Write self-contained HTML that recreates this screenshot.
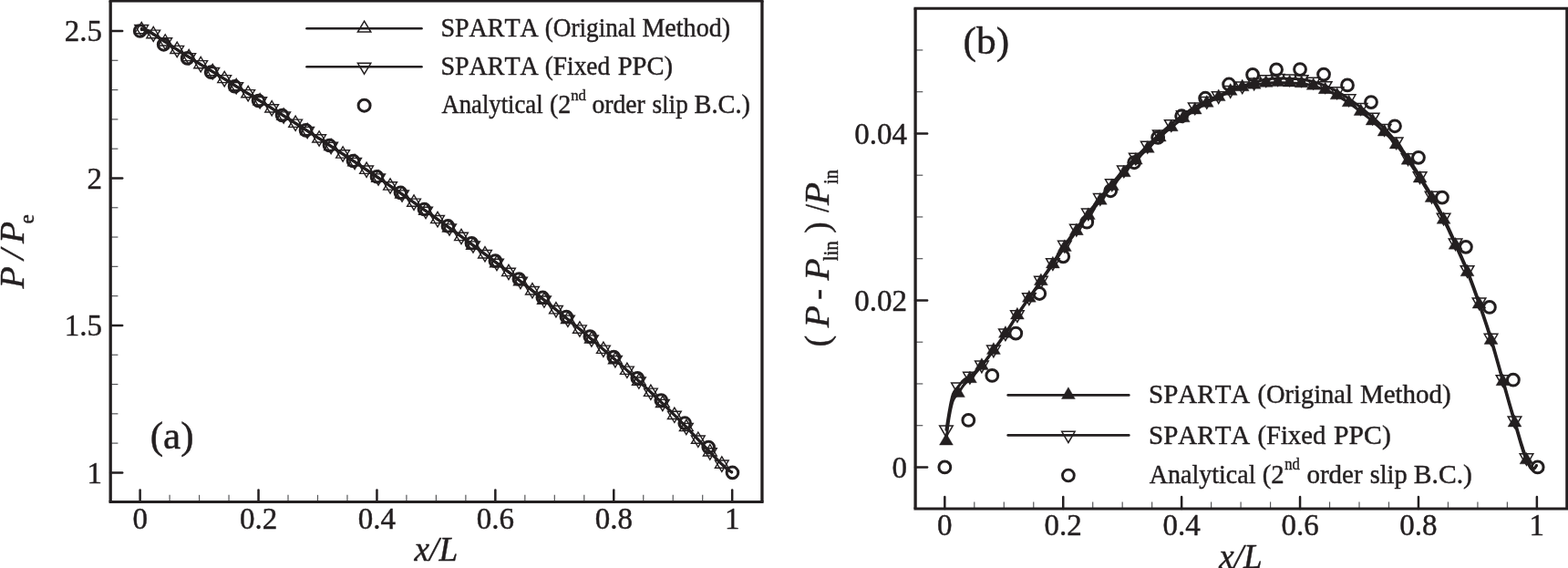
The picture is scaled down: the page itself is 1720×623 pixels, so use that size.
<!DOCTYPE html>
<html lang="en"><head><meta charset="utf-8"><title>Pressure distribution</title>
<style>
html,body{margin:0;padding:0;background:#fff;}
body{width:1720px;height:623px;overflow:hidden;}
svg{display:block;}
text{white-space:pre;font-kerning:none;stroke:#231f20;stroke-width:0.45px;stroke-linejoin:round;}
</style></head><body>
<svg width="1720" height="623" viewBox="0 0 1720 623" font-family="'Liberation Serif', serif" fill="#231f20" font-kerning="none">
<rect width="1720" height="623" fill="#fff"/>
<g id="panel-a">
<line x1="186.10" y1="550.45" x2="186.10" y2="542.85" stroke="#58595b" stroke-width="1.2"/>
<line x1="218.58" y1="550.45" x2="218.58" y2="542.85" stroke="#58595b" stroke-width="1.2"/>
<line x1="251.06" y1="550.45" x2="251.06" y2="542.85" stroke="#58595b" stroke-width="1.2"/>
<line x1="316.01" y1="550.45" x2="316.01" y2="542.85" stroke="#58595b" stroke-width="1.2"/>
<line x1="348.49" y1="550.45" x2="348.49" y2="542.85" stroke="#58595b" stroke-width="1.2"/>
<line x1="380.97" y1="550.45" x2="380.97" y2="542.85" stroke="#58595b" stroke-width="1.2"/>
<line x1="445.92" y1="550.45" x2="445.92" y2="542.85" stroke="#58595b" stroke-width="1.2"/>
<line x1="478.40" y1="550.45" x2="478.40" y2="542.85" stroke="#58595b" stroke-width="1.2"/>
<line x1="510.88" y1="550.45" x2="510.88" y2="542.85" stroke="#58595b" stroke-width="1.2"/>
<line x1="575.83" y1="550.45" x2="575.83" y2="542.85" stroke="#58595b" stroke-width="1.2"/>
<line x1="608.31" y1="550.45" x2="608.31" y2="542.85" stroke="#58595b" stroke-width="1.2"/>
<line x1="640.79" y1="550.45" x2="640.79" y2="542.85" stroke="#58595b" stroke-width="1.2"/>
<line x1="705.74" y1="550.45" x2="705.74" y2="542.85" stroke="#58595b" stroke-width="1.2"/>
<line x1="738.22" y1="550.45" x2="738.22" y2="542.85" stroke="#58595b" stroke-width="1.2"/>
<line x1="770.70" y1="550.45" x2="770.70" y2="542.85" stroke="#58595b" stroke-width="1.2"/>
<line x1="121.20" y1="486.11" x2="129.40" y2="486.11" stroke="#58595b" stroke-width="1.2"/>
<line x1="121.20" y1="453.82" x2="129.40" y2="453.82" stroke="#58595b" stroke-width="1.2"/>
<line x1="121.20" y1="421.52" x2="129.40" y2="421.52" stroke="#58595b" stroke-width="1.2"/>
<line x1="121.20" y1="389.23" x2="129.40" y2="389.23" stroke="#58595b" stroke-width="1.2"/>
<line x1="121.20" y1="324.64" x2="129.40" y2="324.64" stroke="#58595b" stroke-width="1.2"/>
<line x1="121.20" y1="292.35" x2="129.40" y2="292.35" stroke="#58595b" stroke-width="1.2"/>
<line x1="121.20" y1="260.05" x2="129.40" y2="260.05" stroke="#58595b" stroke-width="1.2"/>
<line x1="121.20" y1="227.76" x2="129.40" y2="227.76" stroke="#58595b" stroke-width="1.2"/>
<line x1="121.20" y1="163.17" x2="129.40" y2="163.17" stroke="#58595b" stroke-width="1.2"/>
<line x1="121.20" y1="130.88" x2="129.40" y2="130.88" stroke="#58595b" stroke-width="1.2"/>
<line x1="121.20" y1="98.58" x2="129.40" y2="98.58" stroke="#58595b" stroke-width="1.2"/>
<line x1="121.20" y1="66.29" x2="129.40" y2="66.29" stroke="#58595b" stroke-width="1.2"/>
<line x1="153.63" y1="550.45" x2="153.63" y2="537.45" stroke="#231f20" stroke-width="2.5" stroke-linecap="round"/>
<line x1="283.54" y1="550.45" x2="283.54" y2="537.45" stroke="#231f20" stroke-width="2.5" stroke-linecap="round"/>
<line x1="413.45" y1="550.45" x2="413.45" y2="537.45" stroke="#231f20" stroke-width="2.5" stroke-linecap="round"/>
<line x1="543.35" y1="550.45" x2="543.35" y2="537.45" stroke="#231f20" stroke-width="2.5" stroke-linecap="round"/>
<line x1="673.26" y1="550.45" x2="673.26" y2="537.45" stroke="#231f20" stroke-width="2.5" stroke-linecap="round"/>
<line x1="803.17" y1="550.45" x2="803.17" y2="537.45" stroke="#231f20" stroke-width="2.5" stroke-linecap="round"/>
<line x1="121.20" y1="518.41" x2="134.20" y2="518.41" stroke="#231f20" stroke-width="2.5" stroke-linecap="round"/>
<line x1="121.20" y1="356.94" x2="134.20" y2="356.94" stroke="#231f20" stroke-width="2.5" stroke-linecap="round"/>
<line x1="121.20" y1="195.46" x2="134.20" y2="195.46" stroke="#231f20" stroke-width="2.5" stroke-linecap="round"/>
<line x1="121.20" y1="33.99" x2="134.20" y2="33.99" stroke="#231f20" stroke-width="2.5" stroke-linecap="round"/>
<path d="M119.55 1.00H837.60M119.55 550.45H837.60" fill="none" stroke="#231f20" stroke-width="2.9"/>
<path d="M121.20 1.00V550.45M835.95 1.00V550.45" fill="none" stroke="#231f20" stroke-width="3.3"/>
<circle cx="153.63" cy="33.99" r="6.3" fill="none" stroke="#231f20" stroke-width="3.0"/>
<circle cx="179.61" cy="48.83" r="6.3" fill="none" stroke="#231f20" stroke-width="3.0"/>
<circle cx="205.59" cy="63.88" r="6.3" fill="none" stroke="#231f20" stroke-width="3.0"/>
<circle cx="231.57" cy="79.16" r="6.3" fill="none" stroke="#231f20" stroke-width="3.0"/>
<circle cx="257.55" cy="94.69" r="6.3" fill="none" stroke="#231f20" stroke-width="3.0"/>
<circle cx="283.54" cy="110.48" r="6.3" fill="none" stroke="#231f20" stroke-width="3.0"/>
<circle cx="309.52" cy="126.54" r="6.3" fill="none" stroke="#231f20" stroke-width="3.0"/>
<circle cx="335.50" cy="142.88" r="6.3" fill="none" stroke="#231f20" stroke-width="3.0"/>
<circle cx="361.48" cy="159.52" r="6.3" fill="none" stroke="#231f20" stroke-width="3.0"/>
<circle cx="387.46" cy="176.48" r="6.3" fill="none" stroke="#231f20" stroke-width="3.0"/>
<circle cx="413.45" cy="193.77" r="6.3" fill="none" stroke="#231f20" stroke-width="3.0"/>
<circle cx="439.43" cy="211.42" r="6.3" fill="none" stroke="#231f20" stroke-width="3.0"/>
<circle cx="465.41" cy="229.46" r="6.3" fill="none" stroke="#231f20" stroke-width="3.0"/>
<circle cx="491.39" cy="247.90" r="6.3" fill="none" stroke="#231f20" stroke-width="3.0"/>
<circle cx="517.37" cy="266.78" r="6.3" fill="none" stroke="#231f20" stroke-width="3.0"/>
<circle cx="543.35" cy="286.14" r="6.3" fill="none" stroke="#231f20" stroke-width="3.0"/>
<circle cx="569.34" cy="306.00" r="6.3" fill="none" stroke="#231f20" stroke-width="3.0"/>
<circle cx="595.32" cy="326.42" r="6.3" fill="none" stroke="#231f20" stroke-width="3.0"/>
<circle cx="621.30" cy="347.44" r="6.3" fill="none" stroke="#231f20" stroke-width="3.0"/>
<circle cx="647.28" cy="369.13" r="6.3" fill="none" stroke="#231f20" stroke-width="3.0"/>
<circle cx="673.26" cy="391.56" r="6.3" fill="none" stroke="#231f20" stroke-width="3.0"/>
<circle cx="699.25" cy="414.80" r="6.3" fill="none" stroke="#231f20" stroke-width="3.0"/>
<circle cx="725.23" cy="438.96" r="6.3" fill="none" stroke="#231f20" stroke-width="3.0"/>
<circle cx="751.21" cy="464.17" r="6.3" fill="none" stroke="#231f20" stroke-width="3.0"/>
<circle cx="777.19" cy="490.58" r="6.3" fill="none" stroke="#231f20" stroke-width="3.0"/>
<circle cx="803.47" cy="518.41" r="6.3" fill="none" stroke="#231f20" stroke-width="3.0"/>
<path d="M155.25 24.40L162.65 36.70L147.85 36.70Z" fill="none" stroke="#231f20" stroke-width="1.4"/>
<path d="M155.25 39.87L162.65 27.57L147.85 27.57Z" fill="none" stroke="#231f20" stroke-width="1.4"/>
<path d="M168.24 29.45L175.64 41.75L160.84 41.75Z" fill="none" stroke="#231f20" stroke-width="1.4"/>
<path d="M168.24 45.42L175.64 33.12L160.84 33.12Z" fill="none" stroke="#231f20" stroke-width="1.4"/>
<path d="M181.23 37.75L188.63 50.05L173.83 50.05Z" fill="none" stroke="#231f20" stroke-width="1.4"/>
<path d="M181.23 54.08L188.63 41.78L173.83 41.78Z" fill="none" stroke="#231f20" stroke-width="1.4"/>
<path d="M194.22 46.17L201.62 58.47L186.82 58.47Z" fill="none" stroke="#231f20" stroke-width="1.4"/>
<path d="M194.22 62.69L201.62 50.39L186.82 50.39Z" fill="none" stroke="#231f20" stroke-width="1.4"/>
<path d="M207.21 54.36L214.61 66.66L199.81 66.66Z" fill="none" stroke="#231f20" stroke-width="1.4"/>
<path d="M207.21 70.88L214.61 58.58L199.81 58.58Z" fill="none" stroke="#231f20" stroke-width="1.4"/>
<path d="M220.21 62.45L227.61 74.75L212.81 74.75Z" fill="none" stroke="#231f20" stroke-width="1.4"/>
<path d="M220.21 78.97L227.61 66.67L212.81 66.67Z" fill="none" stroke="#231f20" stroke-width="1.4"/>
<path d="M233.20 70.35L240.60 82.65L225.80 82.65Z" fill="none" stroke="#231f20" stroke-width="1.4"/>
<path d="M233.20 86.87L240.60 74.57L225.80 74.57Z" fill="none" stroke="#231f20" stroke-width="1.4"/>
<path d="M246.19 78.37L253.59 90.67L238.79 90.67Z" fill="none" stroke="#231f20" stroke-width="1.4"/>
<path d="M246.19 94.89L253.59 82.59L238.79 82.59Z" fill="none" stroke="#231f20" stroke-width="1.4"/>
<path d="M259.18 86.43L266.58 98.73L251.78 98.73Z" fill="none" stroke="#231f20" stroke-width="1.4"/>
<path d="M259.18 102.95L266.58 90.65L251.78 90.65Z" fill="none" stroke="#231f20" stroke-width="1.4"/>
<path d="M272.17 94.47L279.57 106.77L264.77 106.77Z" fill="none" stroke="#231f20" stroke-width="1.4"/>
<path d="M272.17 110.90L279.57 98.60L264.77 98.60Z" fill="none" stroke="#231f20" stroke-width="1.4"/>
<path d="M285.16 102.53L292.56 114.83L277.76 114.83Z" fill="none" stroke="#231f20" stroke-width="1.4"/>
<path d="M285.16 118.88L292.56 106.58L277.76 106.58Z" fill="none" stroke="#231f20" stroke-width="1.4"/>
<path d="M298.15 110.64L305.55 122.94L290.75 122.94Z" fill="none" stroke="#231f20" stroke-width="1.4"/>
<path d="M298.15 126.98L305.55 114.68L290.75 114.68Z" fill="none" stroke="#231f20" stroke-width="1.4"/>
<path d="M311.14 118.82L318.54 131.12L303.74 131.12Z" fill="none" stroke="#231f20" stroke-width="1.4"/>
<path d="M311.14 135.14L318.54 122.84L303.74 122.84Z" fill="none" stroke="#231f20" stroke-width="1.4"/>
<path d="M324.13 127.07L331.53 139.37L316.73 139.37Z" fill="none" stroke="#231f20" stroke-width="1.4"/>
<path d="M324.13 143.38L331.53 131.08L316.73 131.08Z" fill="none" stroke="#231f20" stroke-width="1.4"/>
<path d="M337.12 135.37L344.52 147.67L329.72 147.67Z" fill="none" stroke="#231f20" stroke-width="1.4"/>
<path d="M337.12 151.68L344.52 139.38L329.72 139.38Z" fill="none" stroke="#231f20" stroke-width="1.4"/>
<path d="M350.11 143.76L357.51 156.06L342.71 156.06Z" fill="none" stroke="#231f20" stroke-width="1.4"/>
<path d="M350.11 160.05L357.51 147.75L342.71 147.75Z" fill="none" stroke="#231f20" stroke-width="1.4"/>
<path d="M363.11 152.24L370.51 164.54L355.71 164.54Z" fill="none" stroke="#231f20" stroke-width="1.4"/>
<path d="M363.11 168.53L370.51 156.23L355.71 156.23Z" fill="none" stroke="#231f20" stroke-width="1.4"/>
<path d="M376.10 160.80L383.50 173.10L368.70 173.10Z" fill="none" stroke="#231f20" stroke-width="1.4"/>
<path d="M376.10 177.08L383.50 164.78L368.70 164.78Z" fill="none" stroke="#231f20" stroke-width="1.4"/>
<path d="M389.09 169.40L396.49 181.70L381.69 181.70Z" fill="none" stroke="#231f20" stroke-width="1.4"/>
<path d="M389.09 185.68L396.49 173.38L381.69 173.38Z" fill="none" stroke="#231f20" stroke-width="1.4"/>
<path d="M402.08 178.09L409.48 190.39L394.68 190.39Z" fill="none" stroke="#231f20" stroke-width="1.4"/>
<path d="M402.08 194.37L409.48 182.07L394.68 182.07Z" fill="none" stroke="#231f20" stroke-width="1.4"/>
<path d="M415.07 186.91L422.47 199.21L407.67 199.21Z" fill="none" stroke="#231f20" stroke-width="1.4"/>
<path d="M415.07 203.18L422.47 190.88L407.67 190.88Z" fill="none" stroke="#231f20" stroke-width="1.4"/>
<path d="M428.06 195.82L435.46 208.12L420.66 208.12Z" fill="none" stroke="#231f20" stroke-width="1.4"/>
<path d="M428.06 212.10L435.46 199.80L420.66 199.80Z" fill="none" stroke="#231f20" stroke-width="1.4"/>
<path d="M441.05 204.83L448.45 217.13L433.65 217.13Z" fill="none" stroke="#231f20" stroke-width="1.4"/>
<path d="M441.05 221.22L448.45 208.92L433.65 208.92Z" fill="none" stroke="#231f20" stroke-width="1.4"/>
<path d="M454.04 213.92L461.44 226.22L446.64 226.22Z" fill="none" stroke="#231f20" stroke-width="1.4"/>
<path d="M454.04 230.40L461.44 218.10L446.64 218.10Z" fill="none" stroke="#231f20" stroke-width="1.4"/>
<path d="M467.03 223.06L474.43 235.36L459.63 235.36Z" fill="none" stroke="#231f20" stroke-width="1.4"/>
<path d="M467.03 239.54L474.43 227.24L459.63 227.24Z" fill="none" stroke="#231f20" stroke-width="1.4"/>
<path d="M480.02 232.34L487.42 244.64L472.62 244.64Z" fill="none" stroke="#231f20" stroke-width="1.4"/>
<path d="M480.02 248.82L487.42 236.52L472.62 236.52Z" fill="none" stroke="#231f20" stroke-width="1.4"/>
<path d="M493.01 241.81L500.41 254.11L485.61 254.11Z" fill="none" stroke="#231f20" stroke-width="1.4"/>
<path d="M493.01 258.17L500.41 245.87L485.61 245.87Z" fill="none" stroke="#231f20" stroke-width="1.4"/>
<path d="M506.01 251.33L513.41 263.63L498.61 263.63Z" fill="none" stroke="#231f20" stroke-width="1.4"/>
<path d="M506.01 267.56L513.41 255.26L498.61 255.26Z" fill="none" stroke="#231f20" stroke-width="1.4"/>
<path d="M519.00 260.95L526.40 273.25L511.60 273.25Z" fill="none" stroke="#231f20" stroke-width="1.4"/>
<path d="M519.00 277.15L526.40 264.85L511.60 264.85Z" fill="none" stroke="#231f20" stroke-width="1.4"/>
<path d="M531.99 270.67L539.39 282.97L524.59 282.97Z" fill="none" stroke="#231f20" stroke-width="1.4"/>
<path d="M531.99 286.86L539.39 274.56L524.59 274.56Z" fill="none" stroke="#231f20" stroke-width="1.4"/>
<path d="M544.98 280.43L552.38 292.73L537.58 292.73Z" fill="none" stroke="#231f20" stroke-width="1.4"/>
<path d="M544.98 296.62L552.38 284.32L537.58 284.32Z" fill="none" stroke="#231f20" stroke-width="1.4"/>
<path d="M557.97 290.34L565.37 302.64L550.57 302.64Z" fill="none" stroke="#231f20" stroke-width="1.4"/>
<path d="M557.97 306.54L565.37 294.24L550.57 294.24Z" fill="none" stroke="#231f20" stroke-width="1.4"/>
<path d="M570.96 300.42L578.36 312.72L563.56 312.72Z" fill="none" stroke="#231f20" stroke-width="1.4"/>
<path d="M570.96 316.61L578.36 304.31L563.56 304.31Z" fill="none" stroke="#231f20" stroke-width="1.4"/>
<path d="M583.95 310.65L591.35 322.95L576.55 322.95Z" fill="none" stroke="#231f20" stroke-width="1.4"/>
<path d="M583.95 326.85L591.35 314.55L576.55 314.55Z" fill="none" stroke="#231f20" stroke-width="1.4"/>
<path d="M596.94 321.05L604.34 333.35L589.54 333.35Z" fill="none" stroke="#231f20" stroke-width="1.4"/>
<path d="M596.94 337.24L604.34 324.94L589.54 324.94Z" fill="none" stroke="#231f20" stroke-width="1.4"/>
<path d="M609.93 331.59L617.33 343.89L602.53 343.89Z" fill="none" stroke="#231f20" stroke-width="1.4"/>
<path d="M609.93 347.78L617.33 335.48L602.53 335.48Z" fill="none" stroke="#231f20" stroke-width="1.4"/>
<path d="M622.92 342.20L630.32 354.50L615.52 354.50Z" fill="none" stroke="#231f20" stroke-width="1.4"/>
<path d="M622.92 358.42L630.32 346.12L615.52 346.12Z" fill="none" stroke="#231f20" stroke-width="1.4"/>
<path d="M635.91 352.95L643.31 365.25L628.51 365.25Z" fill="none" stroke="#231f20" stroke-width="1.4"/>
<path d="M635.91 369.19L643.31 356.89L628.51 356.89Z" fill="none" stroke="#231f20" stroke-width="1.4"/>
<path d="M648.91 363.87L656.31 376.17L641.51 376.17Z" fill="none" stroke="#231f20" stroke-width="1.4"/>
<path d="M648.91 380.15L656.31 367.85L641.51 367.85Z" fill="none" stroke="#231f20" stroke-width="1.4"/>
<path d="M661.90 375.08L669.30 387.38L654.50 387.38Z" fill="none" stroke="#231f20" stroke-width="1.4"/>
<path d="M661.90 391.41L669.30 379.11L654.50 379.11Z" fill="none" stroke="#231f20" stroke-width="1.4"/>
<path d="M674.89 386.51L682.29 398.81L667.49 398.81Z" fill="none" stroke="#231f20" stroke-width="1.4"/>
<path d="M674.89 402.87L682.29 390.57L667.49 390.57Z" fill="none" stroke="#231f20" stroke-width="1.4"/>
<path d="M687.88 398.09L695.28 410.39L680.48 410.39Z" fill="none" stroke="#231f20" stroke-width="1.4"/>
<path d="M687.88 414.45L695.28 402.15L680.48 402.15Z" fill="none" stroke="#231f20" stroke-width="1.4"/>
<path d="M700.87 409.89L708.27 422.19L693.47 422.19Z" fill="none" stroke="#231f20" stroke-width="1.4"/>
<path d="M700.87 426.25L708.27 413.95L693.47 413.95Z" fill="none" stroke="#231f20" stroke-width="1.4"/>
<path d="M713.86 422.03L721.26 434.33L706.46 434.33Z" fill="none" stroke="#231f20" stroke-width="1.4"/>
<path d="M713.86 438.39L721.26 426.09L706.46 426.09Z" fill="none" stroke="#231f20" stroke-width="1.4"/>
<path d="M726.85 434.34L734.25 446.64L719.45 446.64Z" fill="none" stroke="#231f20" stroke-width="1.4"/>
<path d="M726.85 450.69L734.25 438.39L719.45 438.39Z" fill="none" stroke="#231f20" stroke-width="1.4"/>
<path d="M739.84 447.14L747.24 459.44L732.44 459.44Z" fill="none" stroke="#231f20" stroke-width="1.4"/>
<path d="M739.84 463.50L747.24 451.20L732.44 451.20Z" fill="none" stroke="#231f20" stroke-width="1.4"/>
<path d="M752.83 460.30L760.23 472.60L745.43 472.60Z" fill="none" stroke="#231f20" stroke-width="1.4"/>
<path d="M752.83 476.65L760.23 464.35L745.43 464.35Z" fill="none" stroke="#231f20" stroke-width="1.4"/>
<path d="M765.82 473.99L773.22 486.29L758.42 486.29Z" fill="none" stroke="#231f20" stroke-width="1.4"/>
<path d="M765.82 490.34L773.22 478.04L758.42 478.04Z" fill="none" stroke="#231f20" stroke-width="1.4"/>
<path d="M778.81 487.67L786.21 499.97L771.41 499.97Z" fill="none" stroke="#231f20" stroke-width="1.4"/>
<path d="M778.81 504.03L786.21 491.73L771.41 491.73Z" fill="none" stroke="#231f20" stroke-width="1.4"/>
<path d="M791.81 500.96L799.21 513.26L784.41 513.26Z" fill="none" stroke="#231f20" stroke-width="1.4"/>
<path d="M791.81 517.32L799.21 505.02L784.41 505.02Z" fill="none" stroke="#231f20" stroke-width="1.4"/>
<polyline points="155.25,32.70 155.89,32.64 156.53,32.61 157.17,32.62 157.82,32.69 158.46,32.80 159.10,32.95 159.74,33.13 160.38,33.35 161.02,33.58 161.66,33.83 162.30,34.11 162.95,34.44 163.59,34.81 164.23,35.19 164.87,35.59 165.51,36.00 166.15,36.41 166.79,36.83 167.43,37.24 168.08,37.64 168.72,38.04 169.36,38.44 170.00,38.83 170.64,39.22 171.28,39.61 171.92,40.01 172.56,40.40 173.21,40.80 173.85,41.20 174.49,41.61 175.13,42.02 175.77,42.43 176.41,42.85 177.05,43.28 177.69,43.70 178.33,44.13 178.98,44.55 179.62,44.98 180.26,45.41 182.86,47.11 185.45,48.81 188.05,50.49 190.65,52.17 193.25,53.85 195.85,55.51 198.45,57.15 201.04,58.79 203.64,60.42 206.24,62.05 208.84,63.68 211.44,65.30 214.04,66.92 216.63,68.54 219.23,70.15 221.83,71.74 224.43,73.33 227.03,74.90 229.62,76.47 232.22,78.06 234.82,79.65 237.42,81.25 240.02,82.85 242.62,84.46 245.21,86.07 247.81,87.68 250.41,89.29 253.01,90.90 255.61,92.52 258.20,94.13 260.80,95.74 263.40,97.34 266.00,98.95 268.60,100.56 271.19,102.16 273.79,103.77 276.39,105.38 278.99,106.99 281.59,108.60 284.19,110.22 286.78,111.84 289.38,113.46 291.98,115.08 294.58,116.70 297.18,118.33 299.77,119.96 302.37,121.59 304.97,123.22 307.57,124.86 310.17,126.50 312.77,128.15 315.36,129.79 317.96,131.44 320.56,133.09 323.16,134.75 325.76,136.40 328.36,138.06 330.95,139.72 333.55,141.38 336.15,143.05 338.75,144.72 341.35,146.39 343.94,148.06 346.54,149.74 349.14,151.43 351.74,153.11 354.34,154.80 356.93,156.50 359.53,158.20 362.13,159.90 364.73,161.61 367.33,163.31 369.93,165.03 372.52,166.74 375.12,168.46 377.72,170.17 380.32,171.89 382.92,173.61 385.51,175.33 388.11,177.05 390.71,178.78 393.31,180.51 395.91,182.25 398.51,183.99 401.10,185.74 403.70,187.49 406.30,189.25 408.90,191.01 411.50,192.77 414.09,194.54 416.69,196.31 419.29,198.09 421.89,199.87 424.49,201.66 427.09,203.45 429.68,205.24 432.28,207.04 434.88,208.84 437.48,210.64 440.08,212.45 442.67,214.26 445.27,216.07 447.87,217.89 450.47,219.71 453.07,221.54 455.67,223.36 458.26,225.19 460.86,227.01 463.46,228.84 466.06,230.67 468.66,232.50 471.25,234.35 473.85,236.20 476.45,238.06 479.05,239.94 481.65,241.83 484.25,243.72 486.84,245.61 489.44,247.50 492.04,249.40 494.64,251.29 497.24,253.19 499.84,255.10 502.43,257.00 505.03,258.91 507.63,260.83 510.23,262.74 512.83,264.67 515.42,266.59 518.02,268.53 520.62,270.46 523.22,272.40 525.82,274.35 528.42,276.29 531.01,278.24 533.61,280.19 536.21,282.14 538.81,284.09 541.41,286.04 544.00,287.99 546.60,289.95 549.20,291.92 551.80,293.90 554.40,295.89 557.00,297.89 559.59,299.89 562.19,301.90 564.79,303.92 567.39,305.94 569.99,307.96 572.58,309.98 575.18,312.01 577.78,314.06 580.38,316.11 582.98,318.17 585.58,320.24 588.17,322.32 590.77,324.40 593.37,326.48 595.97,328.56 598.57,330.65 601.16,332.75 603.76,334.86 606.36,336.98 608.96,339.09 611.56,341.21 614.16,343.32 616.75,345.44 619.35,347.57 621.95,349.70 624.55,351.84 627.15,353.99 629.74,356.13 632.34,358.29 634.94,360.44 637.54,362.61 640.14,364.78 642.74,366.96 645.33,369.14 647.93,371.34 650.53,373.55 653.13,375.78 655.73,378.01 658.32,380.26 660.92,382.53 663.52,384.80 666.12,387.08 668.72,389.36 671.31,391.65 673.91,393.95 676.51,396.25 679.11,398.55 681.71,400.87 684.31,403.19 686.90,405.52 689.50,407.85 692.10,410.20 694.70,412.55 697.30,414.92 699.89,417.29 702.49,419.68 705.09,422.10 707.69,424.53 710.29,426.97 712.89,429.41 715.48,431.86 718.08,434.30 720.68,436.75 723.28,439.21 725.88,441.70 728.47,444.21 731.07,446.74 733.67,449.30 736.27,451.88 738.87,454.47 741.47,457.06 744.06,459.67 746.66,462.29 749.26,464.93 751.86,467.59 754.46,470.28 757.05,473.00 759.65,475.75 762.25,478.51 764.85,481.26 767.45,484.00 770.05,486.75 772.64,489.50 775.24,492.24 777.84,494.95 780.44,497.66 783.04,500.41 785.63,503.14 788.23,505.81 788.88,506.45 789.54,507.10 790.19,507.74 790.85,508.37 791.51,508.98 792.16,509.59 792.82,510.20 793.47,510.81 794.13,511.42 794.78,512.02 795.44,512.61 796.10,513.19 796.75,513.76 797.41,514.30 798.06,514.82 798.72,515.31 799.37,515.78 800.03,516.23 800.69,516.66 801.34,517.08 802.00,517.48 802.65,517.86" fill="none" stroke="#231f20" stroke-width="2.95" stroke-linejoin="round" stroke-linecap="round"/>
<polyline points="155.25,31.57 155.89,31.67 156.53,31.79 157.17,31.91 157.82,32.05 158.46,32.20 159.10,32.36 159.74,32.53 160.38,32.74 161.02,32.97 161.66,33.21 162.30,33.48 162.95,33.81 163.59,34.18 164.23,34.56 164.87,34.96 165.51,35.36 166.15,35.77 166.79,36.19 167.43,36.60 168.08,37.01 168.72,37.42 169.36,37.82 170.00,38.23 170.64,38.63 171.28,39.04 171.92,39.44 172.56,39.85 173.21,40.27 173.85,40.69 174.49,41.11 175.13,41.55 175.77,41.98 176.41,42.43 177.05,42.87 177.69,43.32 178.33,43.77 178.98,44.22 179.62,44.67 180.26,45.11 182.86,46.89 185.45,48.63 188.05,50.36 190.65,52.06 193.25,53.76 195.85,55.44 198.45,57.09 201.04,58.72 203.64,60.35 206.24,61.97 208.84,63.60 211.44,65.22 214.04,66.84 216.63,68.46 219.23,70.07 221.83,71.66 224.43,73.25 227.03,74.82 229.62,76.39 232.22,77.98 234.82,79.57 237.42,81.17 240.02,82.77 242.62,84.38 245.21,85.99 247.81,87.60 250.41,89.21 253.01,90.83 255.61,92.44 258.20,94.05 260.80,95.65 263.40,97.24 266.00,98.83 268.60,100.41 271.19,102.00 273.79,103.60 276.39,105.19 278.99,106.78 281.59,108.38 284.19,109.98 286.78,111.59 289.38,113.20 291.98,114.82 294.58,116.45 297.18,118.07 299.77,119.70 302.37,121.32 304.97,122.96 307.57,124.59 310.17,126.23 312.77,127.87 315.36,129.51 317.96,131.16 320.56,132.81 323.16,134.46 325.76,136.11 328.36,137.77 330.95,139.43 333.55,141.09 336.15,142.75 338.75,144.42 341.35,146.09 343.94,147.76 346.54,149.44 349.14,151.12 351.74,152.81 354.34,154.50 356.93,156.19 359.53,157.89 362.13,159.59 364.73,161.29 367.33,163.00 369.93,164.71 372.52,166.42 375.12,168.14 377.72,169.85 380.32,171.57 382.92,173.29 385.51,175.01 388.11,176.73 390.71,178.46 393.31,180.19 395.91,181.93 398.51,183.67 401.10,185.41 403.70,187.17 406.30,188.92 408.90,190.68 411.50,192.45 414.09,194.22 416.69,195.99 419.29,197.77 421.89,199.54 424.49,201.33 427.09,203.12 429.68,204.93 432.28,206.75 434.88,208.57 437.48,210.40 440.08,212.23 442.67,214.06 445.27,215.90 447.87,217.74 450.47,219.58 453.07,221.41 455.67,223.24 458.26,225.07 460.86,226.89 463.46,228.71 466.06,230.54 468.66,232.39 471.25,234.24 473.85,236.10 476.45,237.96 479.05,239.82 481.65,241.69 484.25,243.55 486.84,245.42 489.44,247.29 492.04,249.16 494.64,251.04 497.24,252.91 499.84,254.78 502.43,256.66 505.03,258.55 507.63,260.45 510.23,262.36 512.83,264.28 515.42,266.19 518.02,268.12 520.62,270.06 523.22,272.00 525.82,273.94 528.42,275.89 531.01,277.83 533.61,279.78 536.21,281.73 538.81,283.68 541.41,285.63 544.00,287.59 546.60,289.55 549.20,291.52 551.80,293.50 554.40,295.49 557.00,297.49 559.59,299.48 562.19,301.49 564.79,303.50 567.39,305.53 569.99,307.55 572.58,309.58 575.18,311.62 577.78,313.67 580.38,315.72 582.98,317.77 585.58,319.84 588.17,321.91 590.77,323.98 593.37,326.07 595.97,328.16 598.57,330.25 601.16,332.35 603.76,334.46 606.36,336.57 608.96,338.69 611.56,340.81 614.16,342.93 616.75,345.05 619.35,347.18 621.95,349.31 624.55,351.45 627.15,353.60 629.74,355.75 632.34,357.91 634.94,360.08 637.54,362.25 640.14,364.43 642.74,366.62 645.33,368.81 647.93,371.02 650.53,373.24 653.13,375.48 655.73,377.73 658.32,379.99 660.92,382.26 663.52,384.53 666.12,386.82 668.72,389.11 671.31,391.40 673.91,393.71 676.51,396.01 679.11,398.32 681.71,400.63 684.31,402.95 686.90,405.27 689.50,407.61 692.10,409.95 694.70,412.31 697.30,414.67 699.89,417.05 702.49,419.44 705.09,421.86 707.69,424.29 710.29,426.73 712.89,429.17 715.48,431.62 718.08,434.06 720.68,436.51 723.28,438.97 725.88,441.46 728.47,443.97 731.07,446.50 733.67,449.06 736.27,451.64 738.87,454.22 741.47,456.82 744.06,459.43 746.66,462.05 749.26,464.69 751.86,467.35 754.46,470.04 757.05,472.76 759.65,475.51 762.25,478.26 764.85,481.02 767.45,483.76 770.05,486.51 772.64,489.25 775.24,491.99 777.84,494.71 780.44,497.42 783.04,500.15 785.63,502.87 788.23,505.53 788.88,506.18 789.54,506.83 790.19,507.47 790.85,508.11 791.51,508.74 792.16,509.36 792.82,509.98 793.47,510.61 794.13,511.24 794.78,511.87 795.44,512.48 796.10,513.08 796.75,513.66 797.41,514.21 798.06,514.73 798.72,515.23 799.37,515.71 800.03,516.17 800.69,516.62 801.34,517.05 802.00,517.46 802.65,517.86" fill="none" stroke="#231f20" stroke-width="2.95" stroke-linejoin="round" stroke-linecap="round"/>
<text x="112.1" y="45.49" font-size="33" text-anchor="end">2.5</text>
<text x="112.1" y="206.96" font-size="33" text-anchor="end">2</text>
<text x="112.1" y="368.44" font-size="33" text-anchor="end">1.5</text>
<text x="112.1" y="529.91" font-size="33" text-anchor="end">1</text>
<text x="153.63" y="579.5" font-size="33" text-anchor="middle">0</text>
<text x="283.54" y="579.5" font-size="33" text-anchor="middle">0.2</text>
<text x="413.45" y="579.5" font-size="33" text-anchor="middle">0.4</text>
<text x="543.35" y="579.5" font-size="33" text-anchor="middle">0.6</text>
<text x="673.26" y="579.5" font-size="33" text-anchor="middle">0.8</text>
<text x="803.17" y="579.5" font-size="33" text-anchor="middle">1</text>
<text><tspan x="454.42" y="614.80" font-size="38" font-style="italic" textLength="47.82" lengthAdjust="spacingAndGlyphs">x/L</tspan></text>
<text transform="rotate(-90)"><tspan x="-316.61" y="26.00" font-size="38" font-style="italic" textLength="24.26" lengthAdjust="spacingAndGlyphs">P</tspan> <tspan x="-284.78" y="26.00" font-size="38" font-style="italic" textLength="11.22" lengthAdjust="spacingAndGlyphs">/</tspan> <tspan x="-267.01" y="26.00" font-size="38" font-style="italic" textLength="23.95" lengthAdjust="spacingAndGlyphs">P</tspan><tspan x="-245.43" y="37.10" font-size="23.6" textLength="10.23" lengthAdjust="spacingAndGlyphs">e</tspan></text>
<text><tspan x="164.65" y="491.60" font-size="42.6" textLength="47.93" lengthAdjust="spacingAndGlyphs">(a)</tspan></text>
<line x1="336.5" y1="31.2" x2="462.5" y2="31.2" stroke="#231f20" stroke-width="2.6" stroke-linecap="round"/>
<path d="M399.60 23.20L406.80 35.10L392.40 35.10Z" fill="none" stroke="#231f20" stroke-width="1.5"/>
<line x1="336.5" y1="73.2" x2="462.5" y2="73.2" stroke="#231f20" stroke-width="2.6" stroke-linecap="round"/>
<path d="M399.60 81.20L406.80 69.30L392.40 69.30Z" fill="none" stroke="#231f20" stroke-width="1.5"/>
<circle cx="399.60" cy="115.70" r="6.5" fill="none" stroke="#231f20" stroke-width="3.0"/>
<text><tspan x="483.51" y="39.90" font-size="28.5" textLength="107.24" lengthAdjust="spacingAndGlyphs">SPARTA</tspan> <tspan x="597.74" y="39.90" font-size="28.5" textLength="99.78" lengthAdjust="spacingAndGlyphs">(Original</tspan> <tspan x="704.38" y="39.90" font-size="28.5" textLength="96.73" lengthAdjust="spacingAndGlyphs">Method)</tspan></text>
<text><tspan x="483.51" y="82.00" font-size="28.5" textLength="107.24" lengthAdjust="spacingAndGlyphs">SPARTA</tspan> <tspan x="597.74" y="82.00" font-size="28.5" textLength="71.42" lengthAdjust="spacingAndGlyphs">(Fixed</tspan> <tspan x="677.67" y="82.00" font-size="28.5" textLength="60.31" lengthAdjust="spacingAndGlyphs">PPC)</tspan></text>
<text><tspan x="484.50" y="124.40" font-size="28.5" textLength="111.12" lengthAdjust="spacingAndGlyphs">Analytical</tspan> <tspan x="602.92" y="124.40" font-size="28.5" textLength="23.33" lengthAdjust="spacingAndGlyphs">(2</tspan><tspan x="626.18" y="109.90" font-size="17" textLength="16.72" lengthAdjust="spacingAndGlyphs">nd</tspan> <tspan x="649.45" y="124.40" font-size="28.5" textLength="58.36" lengthAdjust="spacingAndGlyphs">order</tspan> <tspan x="715.44" y="124.40" font-size="28.5" textLength="39.35" lengthAdjust="spacingAndGlyphs">slip</tspan> <tspan x="761.48" y="124.40" font-size="28.5" textLength="61.53" lengthAdjust="spacingAndGlyphs">B.C.)</tspan></text>
</g>
<g id="panel-b">
<line x1="1068.80" y1="558.05" x2="1068.80" y2="550.45" stroke="#58595b" stroke-width="1.2"/>
<line x1="1101.28" y1="558.05" x2="1101.28" y2="550.45" stroke="#58595b" stroke-width="1.2"/>
<line x1="1133.76" y1="558.05" x2="1133.76" y2="550.45" stroke="#58595b" stroke-width="1.2"/>
<line x1="1198.71" y1="558.05" x2="1198.71" y2="550.45" stroke="#58595b" stroke-width="1.2"/>
<line x1="1231.19" y1="558.05" x2="1231.19" y2="550.45" stroke="#58595b" stroke-width="1.2"/>
<line x1="1263.67" y1="558.05" x2="1263.67" y2="550.45" stroke="#58595b" stroke-width="1.2"/>
<line x1="1328.62" y1="558.05" x2="1328.62" y2="550.45" stroke="#58595b" stroke-width="1.2"/>
<line x1="1361.10" y1="558.05" x2="1361.10" y2="550.45" stroke="#58595b" stroke-width="1.2"/>
<line x1="1393.58" y1="558.05" x2="1393.58" y2="550.45" stroke="#58595b" stroke-width="1.2"/>
<line x1="1458.53" y1="558.05" x2="1458.53" y2="550.45" stroke="#58595b" stroke-width="1.2"/>
<line x1="1491.01" y1="558.05" x2="1491.01" y2="550.45" stroke="#58595b" stroke-width="1.2"/>
<line x1="1523.49" y1="558.05" x2="1523.49" y2="550.45" stroke="#58595b" stroke-width="1.2"/>
<line x1="1588.44" y1="558.05" x2="1588.44" y2="550.45" stroke="#58595b" stroke-width="1.2"/>
<line x1="1620.92" y1="558.05" x2="1620.92" y2="550.45" stroke="#58595b" stroke-width="1.2"/>
<line x1="1653.40" y1="558.05" x2="1653.40" y2="550.45" stroke="#58595b" stroke-width="1.2"/>
<line x1="1004.10" y1="466.70" x2="1012.30" y2="466.70" stroke="#58595b" stroke-width="1.2"/>
<line x1="1004.10" y1="420.95" x2="1012.30" y2="420.95" stroke="#58595b" stroke-width="1.2"/>
<line x1="1004.10" y1="375.20" x2="1012.30" y2="375.20" stroke="#58595b" stroke-width="1.2"/>
<line x1="1004.10" y1="283.70" x2="1012.30" y2="283.70" stroke="#58595b" stroke-width="1.2"/>
<line x1="1004.10" y1="237.95" x2="1012.30" y2="237.95" stroke="#58595b" stroke-width="1.2"/>
<line x1="1004.10" y1="192.20" x2="1012.30" y2="192.20" stroke="#58595b" stroke-width="1.2"/>
<line x1="1004.10" y1="100.70" x2="1012.30" y2="100.70" stroke="#58595b" stroke-width="1.2"/>
<line x1="1004.10" y1="54.95" x2="1012.30" y2="54.95" stroke="#58595b" stroke-width="1.2"/>
<line x1="1036.33" y1="558.05" x2="1036.33" y2="545.05" stroke="#231f20" stroke-width="2.5" stroke-linecap="round"/>
<line x1="1166.24" y1="558.05" x2="1166.24" y2="545.05" stroke="#231f20" stroke-width="2.5" stroke-linecap="round"/>
<line x1="1296.15" y1="558.05" x2="1296.15" y2="545.05" stroke="#231f20" stroke-width="2.5" stroke-linecap="round"/>
<line x1="1426.05" y1="558.05" x2="1426.05" y2="545.05" stroke="#231f20" stroke-width="2.5" stroke-linecap="round"/>
<line x1="1555.96" y1="558.05" x2="1555.96" y2="545.05" stroke="#231f20" stroke-width="2.5" stroke-linecap="round"/>
<line x1="1685.87" y1="558.05" x2="1685.87" y2="545.05" stroke="#231f20" stroke-width="2.5" stroke-linecap="round"/>
<line x1="1004.10" y1="512.45" x2="1017.10" y2="512.45" stroke="#231f20" stroke-width="2.5" stroke-linecap="round"/>
<line x1="1004.10" y1="329.45" x2="1017.10" y2="329.45" stroke="#231f20" stroke-width="2.5" stroke-linecap="round"/>
<line x1="1004.10" y1="146.45" x2="1017.10" y2="146.45" stroke="#231f20" stroke-width="2.5" stroke-linecap="round"/>
<path d="M1002.45 9.30H1720.55M1002.45 558.05H1720.55" fill="none" stroke="#231f20" stroke-width="2.9"/>
<path d="M1004.10 9.30V558.05M1718.90 9.30V558.05" fill="none" stroke="#231f20" stroke-width="3.3"/>
<polyline points="1037.95,484.09 1038.59,477.91 1039.23,472.18 1039.87,466.95 1040.52,462.25 1041.16,458.11 1041.80,454.39 1042.44,451.05 1043.08,448.06 1043.72,445.29 1044.36,442.67 1045.00,440.41 1045.65,438.73 1046.29,437.49 1046.93,436.45 1047.57,435.54 1048.21,434.74 1048.85,434.00 1049.49,433.27 1050.13,432.52 1050.78,431.70 1051.42,430.80 1052.06,429.85 1052.70,428.89 1053.34,427.91 1053.98,426.93 1054.62,425.96 1055.26,425.01 1055.91,424.09 1056.55,423.22 1057.19,422.40 1057.83,421.64 1058.47,420.94 1059.11,420.28 1059.75,419.66 1060.39,419.05 1061.03,418.47 1061.68,417.88 1062.32,417.30 1062.96,416.70 1065.56,414.05 1068.15,411.31 1070.75,408.48 1073.35,405.57 1075.95,402.55 1078.55,399.42 1081.15,396.13 1083.74,392.72 1086.34,389.24 1088.94,385.72 1091.54,382.21 1094.14,378.67 1096.74,375.08 1099.33,371.42 1101.93,367.68 1104.53,363.83 1107.13,359.80 1109.73,355.69 1112.32,351.56 1114.92,347.53 1117.52,343.62 1120.12,339.79 1122.72,336.00 1125.32,332.25 1127.91,328.53 1130.51,324.84 1133.11,321.15 1135.71,317.47 1138.31,313.78 1140.90,310.07 1143.50,306.34 1146.10,302.60 1148.70,298.84 1151.30,295.09 1153.89,291.34 1156.49,287.60 1159.09,283.87 1161.69,280.17 1164.29,276.50 1166.89,272.86 1169.48,269.25 1172.08,265.65 1174.68,262.07 1177.28,258.51 1179.88,254.96 1182.47,251.45 1185.07,247.96 1187.67,244.52 1190.27,241.12 1192.87,237.76 1195.47,234.45 1198.06,231.16 1200.66,227.89 1203.26,224.64 1205.86,221.41 1208.46,218.21 1211.06,215.04 1213.65,211.89 1216.25,208.77 1218.85,205.69 1221.45,202.64 1224.05,199.63 1226.64,196.66 1229.24,193.73 1231.84,190.85 1234.44,188.01 1237.04,185.22 1239.63,182.47 1242.23,179.77 1244.83,177.10 1247.43,174.47 1250.03,171.88 1252.63,169.31 1255.22,166.77 1257.82,164.26 1260.42,161.76 1263.02,159.27 1265.62,156.79 1268.21,154.34 1270.81,151.91 1273.41,149.52 1276.01,147.18 1278.61,144.89 1281.21,142.66 1283.80,140.50 1286.40,138.42 1289.00,136.38 1291.60,134.38 1294.20,132.42 1296.79,130.50 1299.39,128.63 1301.99,126.81 1304.59,125.04 1307.19,123.31 1309.79,121.63 1312.38,120.01 1314.98,118.42 1317.58,116.86 1320.18,115.34 1322.78,113.85 1325.38,112.41 1327.97,111.00 1330.57,109.64 1333.17,108.32 1335.77,107.04 1338.37,105.80 1340.96,104.52 1343.56,103.24 1346.16,101.97 1348.76,100.75 1351.36,99.58 1353.95,98.49 1356.55,97.52 1359.15,96.67 1361.75,95.98 1364.35,95.42 1366.95,94.89 1369.54,94.37 1372.14,93.87 1374.74,93.39 1377.34,92.93 1379.94,92.50 1382.53,92.11 1385.13,91.75 1387.73,91.43 1390.33,91.16 1392.93,90.93 1395.53,90.76 1398.12,90.64 1400.72,90.59 1403.32,90.59 1405.92,90.62 1408.52,90.68 1411.12,90.75 1413.71,90.85 1416.31,90.98 1418.91,91.11 1421.51,91.27 1424.11,91.44 1426.70,91.62 1429.30,91.84 1431.90,92.19 1434.50,92.67 1437.10,93.26 1439.70,93.95 1442.29,94.72 1444.89,95.56 1447.49,96.44 1450.09,97.36 1452.69,98.29 1455.28,99.25 1457.88,100.34 1460.48,101.55 1463.08,102.87 1465.68,104.28 1468.28,105.77 1470.87,107.32 1473.47,108.92 1476.07,110.56 1478.67,112.22 1481.27,113.92 1483.86,115.76 1486.46,117.70 1489.06,119.71 1491.66,121.74 1494.26,123.76 1496.86,125.79 1499.45,127.85 1502.05,129.98 1504.65,132.19 1507.25,134.49 1509.85,136.82 1512.44,139.20 1515.04,141.63 1517.64,144.12 1520.24,146.68 1522.84,149.33 1525.43,152.06 1528.03,154.90 1530.63,157.84 1533.23,160.92 1535.83,164.16 1538.43,167.57 1541.02,171.12 1543.62,174.79 1546.22,178.57 1548.82,182.45 1551.42,186.40 1554.01,190.41 1556.61,194.46 1559.21,198.55 1561.81,202.71 1564.41,206.97 1567.01,211.31 1569.60,215.74 1572.20,220.27 1574.80,224.90 1577.40,229.63 1580.00,234.48 1582.59,239.43 1585.19,244.54 1587.79,249.92 1590.39,255.51 1592.99,261.23 1595.59,266.99 1598.18,272.73 1600.78,278.46 1603.38,284.27 1605.98,290.22 1608.58,296.41 1611.17,302.89 1613.77,309.68 1616.37,316.72 1618.97,323.95 1621.57,331.32 1624.17,338.77 1626.76,346.36 1629.36,354.12 1631.96,362.08 1634.56,370.27 1637.16,378.77 1639.75,387.68 1642.35,396.85 1644.95,406.13 1647.55,415.36 1650.15,424.47 1652.75,433.66 1655.34,442.84 1657.94,451.92 1660.54,460.78 1663.14,469.53 1665.74,478.67 1668.34,487.67 1670.93,495.91 1671.58,497.78 1672.24,499.57 1672.89,501.25 1673.55,502.81 1674.21,504.24 1674.86,505.57 1675.52,506.93 1676.17,508.31 1676.83,509.67 1677.48,510.96 1678.14,512.14 1678.80,513.17 1679.45,514.02 1680.11,514.63 1680.76,514.96 1681.42,514.99 1682.07,514.79 1682.73,514.37 1683.39,513.74 1684.04,512.90 1684.70,511.86 1685.35,510.62" fill="none" stroke="#231f20" stroke-width="2.95" stroke-linejoin="round" stroke-linecap="round"/>
<polyline points="1037.95,471.28 1038.59,466.99 1039.23,462.86 1039.87,458.88 1040.52,455.04 1041.16,451.34 1041.80,447.69 1042.44,444.24 1043.08,441.12 1043.72,438.30 1044.36,435.62 1045.00,433.30 1045.65,431.59 1046.29,430.34 1046.93,429.27 1047.57,428.34 1048.21,427.51 1048.85,426.75 1049.49,426.03 1050.13,425.31 1050.78,424.54 1051.42,423.73 1052.06,422.89 1052.70,422.05 1053.34,421.21 1053.98,420.38 1054.62,419.58 1055.26,418.82 1055.91,418.10 1056.55,417.43 1057.19,416.84 1057.83,416.31 1058.47,415.86 1059.11,415.45 1059.75,415.08 1060.39,414.73 1061.03,414.40 1061.68,414.07 1062.32,413.72 1062.96,413.35 1065.56,411.50 1068.15,409.32 1070.75,406.91 1073.35,404.30 1075.95,401.54 1078.55,398.63 1081.15,395.41 1083.74,391.96 1086.34,388.40 1088.94,384.82 1091.54,381.29 1094.14,377.75 1096.74,374.16 1099.33,370.51 1101.93,366.77 1104.53,362.91 1107.13,358.89 1109.73,354.77 1112.32,350.65 1114.92,346.61 1117.52,342.71 1120.12,338.88 1122.72,335.11 1125.32,331.36 1127.91,327.63 1130.51,323.91 1133.11,320.24 1135.71,316.58 1138.31,312.91 1140.90,309.17 1143.50,305.35 1146.10,301.43 1148.70,297.46 1151.30,293.48 1153.89,289.52 1156.49,285.61 1159.09,281.70 1161.69,277.81 1164.29,273.95 1166.89,270.15 1169.48,266.42 1172.08,262.76 1174.68,259.14 1177.28,255.57 1179.88,252.02 1182.47,248.49 1185.07,244.99 1187.67,241.52 1190.27,238.08 1192.87,234.67 1195.47,231.31 1198.06,227.98 1200.66,224.68 1203.26,221.41 1205.86,218.17 1208.46,214.95 1211.06,211.75 1213.65,208.57 1216.25,205.43 1218.85,202.33 1221.45,199.27 1224.05,196.24 1226.64,193.24 1229.24,190.29 1231.84,187.39 1234.44,184.54 1237.04,181.74 1239.63,178.98 1242.23,176.26 1244.83,173.57 1247.43,170.92 1250.03,168.32 1252.63,165.75 1255.22,163.20 1257.82,160.67 1260.42,158.15 1263.02,155.64 1265.62,153.14 1268.21,150.68 1270.81,148.27 1273.41,145.90 1276.01,143.57 1278.61,141.28 1281.21,139.04 1283.80,136.86 1286.40,134.75 1289.00,132.70 1291.60,130.69 1294.20,128.74 1296.79,126.84 1299.39,124.97 1301.99,123.11 1304.59,121.29 1307.19,119.56 1309.79,117.94 1312.38,116.46 1314.98,115.10 1317.58,113.82 1320.18,112.58 1322.78,111.37 1325.38,110.18 1327.97,109.03 1330.57,107.91 1333.17,106.80 1335.77,105.65 1338.37,104.43 1340.96,103.14 1343.56,101.81 1346.16,100.52 1348.76,99.34 1351.36,98.28 1353.95,97.32 1356.55,96.41 1359.15,95.54 1361.75,94.69 1364.35,93.86 1366.95,93.05 1369.54,92.26 1372.14,91.50 1374.74,90.76 1377.34,90.03 1379.94,89.25 1382.53,88.50 1385.13,87.82 1387.73,87.30 1390.33,86.94 1392.93,86.62 1395.53,86.34 1398.12,86.13 1400.72,86.02 1403.32,86.02 1405.92,86.06 1408.52,86.12 1411.12,86.20 1413.71,86.29 1416.31,86.38 1418.91,86.50 1421.51,86.64 1424.11,86.82 1426.70,87.02 1429.30,87.29 1431.90,87.69 1434.50,88.20 1437.10,88.79 1439.70,89.42 1442.29,90.09 1444.89,90.86 1447.49,91.73 1450.09,92.68 1452.69,93.68 1455.28,94.73 1457.88,95.86 1460.48,97.08 1463.08,98.38 1465.68,99.73 1468.28,101.14 1470.87,102.65 1473.47,104.24 1476.07,105.90 1478.67,107.62 1481.27,109.38 1483.86,111.24 1486.46,113.17 1489.06,115.15 1491.66,117.16 1494.26,119.20 1496.86,121.27 1499.45,123.39 1502.05,125.56 1504.65,127.79 1507.25,130.09 1509.85,132.46 1512.44,134.89 1515.04,137.40 1517.64,139.99 1520.24,142.65 1522.84,145.39 1525.43,148.21 1528.03,151.15 1530.63,154.21 1533.23,157.42 1535.83,160.83 1538.43,164.38 1541.02,168.05 1543.62,171.79 1546.22,175.58 1548.82,179.49 1551.42,183.49 1554.01,187.57 1556.61,191.69 1559.21,195.83 1561.81,200.02 1564.41,204.26 1567.01,208.58 1569.60,212.99 1572.20,217.52 1574.80,222.12 1577.40,226.83 1580.00,231.67 1582.59,236.66 1585.19,241.84 1587.79,247.24 1590.39,252.82 1592.99,258.51 1595.59,264.25 1598.18,269.99 1600.78,275.72 1603.38,281.52 1605.98,287.48 1608.58,293.66 1611.17,300.15 1613.77,306.94 1616.37,313.98 1618.97,321.21 1621.57,328.57 1624.17,336.03 1626.76,343.62 1629.36,351.38 1631.96,359.33 1634.56,367.53 1637.16,376.03 1639.75,384.93 1642.35,394.11 1644.95,403.39 1647.55,412.61 1650.15,421.72 1652.75,430.91 1655.34,440.09 1657.94,449.17 1660.54,458.03 1663.14,466.75 1665.74,475.73 1668.34,484.56 1670.93,492.77 1671.58,494.67 1672.24,496.51 1672.89,498.26 1673.55,499.92 1674.21,501.49 1674.86,502.97 1675.52,504.53 1676.17,506.13 1676.83,507.72 1677.48,509.24 1678.14,510.65 1678.80,511.88 1679.45,512.89 1680.11,513.63 1680.76,514.03 1681.42,514.08 1682.07,513.96 1682.73,513.67 1683.39,513.22 1684.04,512.57 1684.70,511.71 1685.35,510.62" fill="none" stroke="#231f20" stroke-width="2.95" stroke-linejoin="round" stroke-linecap="round"/>
<path d="M1037.95 475.39L1045.40 488.09L1030.50 488.09Z" fill="#231f20" stroke="#231f20" stroke-width="0.4"/>
<path d="M1050.94 422.77L1058.39 435.47L1043.49 435.47Z" fill="#231f20" stroke="#231f20" stroke-width="0.4"/>
<path d="M1063.93 407.03L1071.38 419.73L1056.48 419.73Z" fill="#231f20" stroke="#231f20" stroke-width="0.4"/>
<path d="M1076.92 392.69L1084.37 405.39L1069.47 405.39Z" fill="#231f20" stroke="#231f20" stroke-width="0.4"/>
<path d="M1089.91 375.71L1097.36 388.41L1082.46 388.41Z" fill="#231f20" stroke="#231f20" stroke-width="0.4"/>
<path d="M1102.91 357.56L1110.36 370.26L1095.46 370.26Z" fill="#231f20" stroke="#231f20" stroke-width="0.4"/>
<path d="M1115.90 337.35L1123.35 350.05L1108.45 350.05Z" fill="#231f20" stroke="#231f20" stroke-width="0.4"/>
<path d="M1128.89 318.45L1136.34 331.15L1121.44 331.15Z" fill="#231f20" stroke="#231f20" stroke-width="0.4"/>
<path d="M1141.88 299.97L1149.33 312.67L1134.43 312.67Z" fill="#231f20" stroke="#231f20" stroke-width="0.4"/>
<path d="M1154.87 281.23L1162.32 293.93L1147.42 293.93Z" fill="#231f20" stroke="#231f20" stroke-width="0.4"/>
<path d="M1167.86 262.80L1175.31 275.50L1160.41 275.50Z" fill="#231f20" stroke="#231f20" stroke-width="0.4"/>
<path d="M1180.85 244.94L1188.30 257.64L1173.40 257.64Z" fill="#231f20" stroke="#231f20" stroke-width="0.4"/>
<path d="M1193.84 227.82L1201.29 240.52L1186.39 240.52Z" fill="#231f20" stroke="#231f20" stroke-width="0.4"/>
<path d="M1206.83 211.51L1214.28 224.21L1199.38 224.21Z" fill="#231f20" stroke="#231f20" stroke-width="0.4"/>
<path d="M1219.82 195.84L1227.27 208.54L1212.37 208.54Z" fill="#231f20" stroke="#231f20" stroke-width="0.4"/>
<path d="M1232.81 181.08L1240.26 193.78L1225.36 193.78Z" fill="#231f20" stroke="#231f20" stroke-width="0.4"/>
<path d="M1245.81 167.41L1253.26 180.11L1238.36 180.11Z" fill="#231f20" stroke="#231f20" stroke-width="0.4"/>
<path d="M1258.80 154.62L1266.25 167.32L1251.35 167.32Z" fill="#231f20" stroke="#231f20" stroke-width="0.4"/>
<path d="M1271.79 142.31L1279.24 155.01L1264.34 155.01Z" fill="#231f20" stroke="#231f20" stroke-width="0.4"/>
<path d="M1284.78 131.02L1292.23 143.72L1277.33 143.72Z" fill="#231f20" stroke="#231f20" stroke-width="0.4"/>
<path d="M1297.77 121.10L1305.22 133.80L1290.32 133.80Z" fill="#231f20" stroke="#231f20" stroke-width="0.4"/>
<path d="M1310.76 112.32L1318.21 125.02L1303.31 125.02Z" fill="#231f20" stroke="#231f20" stroke-width="0.4"/>
<path d="M1323.75 104.61L1331.20 117.31L1316.30 117.31Z" fill="#231f20" stroke="#231f20" stroke-width="0.4"/>
<path d="M1336.74 97.88L1344.19 110.58L1329.29 110.58Z" fill="#231f20" stroke="#231f20" stroke-width="0.4"/>
<path d="M1349.73 91.60L1357.18 104.30L1342.28 104.30Z" fill="#231f20" stroke="#231f20" stroke-width="0.4"/>
<path d="M1362.72 87.06L1370.17 99.76L1355.27 99.76Z" fill="#231f20" stroke="#231f20" stroke-width="0.4"/>
<path d="M1375.71 84.51L1383.16 97.21L1368.26 97.21Z" fill="#231f20" stroke="#231f20" stroke-width="0.4"/>
<path d="M1388.71 82.62L1396.16 95.32L1381.26 95.32Z" fill="#231f20" stroke="#231f20" stroke-width="0.4"/>
<path d="M1401.70 81.88L1409.15 94.58L1394.25 94.58Z" fill="#231f20" stroke="#231f20" stroke-width="0.4"/>
<path d="M1414.69 82.20L1422.14 94.90L1407.24 94.90Z" fill="#231f20" stroke="#231f20" stroke-width="0.4"/>
<path d="M1427.68 82.99L1435.13 95.69L1420.23 95.69Z" fill="#231f20" stroke="#231f20" stroke-width="0.4"/>
<path d="M1440.67 85.53L1448.12 98.23L1433.22 98.23Z" fill="#231f20" stroke="#231f20" stroke-width="0.4"/>
<path d="M1453.66 89.94L1461.11 102.64L1446.21 102.64Z" fill="#231f20" stroke="#231f20" stroke-width="0.4"/>
<path d="M1466.65 96.13L1474.10 108.83L1459.20 108.83Z" fill="#231f20" stroke="#231f20" stroke-width="0.4"/>
<path d="M1479.64 104.14L1487.09 116.84L1472.19 116.84Z" fill="#231f20" stroke="#231f20" stroke-width="0.4"/>
<path d="M1492.63 113.80L1500.08 126.50L1485.18 126.50Z" fill="#231f20" stroke="#231f20" stroke-width="0.4"/>
<path d="M1505.62 124.34L1513.07 137.04L1498.17 137.04Z" fill="#231f20" stroke="#231f20" stroke-width="0.4"/>
<path d="M1518.61 136.37L1526.06 149.07L1511.16 149.07Z" fill="#231f20" stroke="#231f20" stroke-width="0.4"/>
<path d="M1531.61 150.28L1539.06 162.98L1524.16 162.98Z" fill="#231f20" stroke="#231f20" stroke-width="0.4"/>
<path d="M1544.60 167.50L1552.05 180.20L1537.15 180.20Z" fill="#231f20" stroke="#231f20" stroke-width="0.4"/>
<path d="M1557.59 187.28L1565.04 199.98L1550.14 199.98Z" fill="#231f20" stroke="#231f20" stroke-width="0.4"/>
<path d="M1570.58 208.73L1578.03 221.43L1563.13 221.43Z" fill="#231f20" stroke="#231f20" stroke-width="0.4"/>
<path d="M1583.57 232.62L1591.02 245.32L1576.12 245.32Z" fill="#231f20" stroke="#231f20" stroke-width="0.4"/>
<path d="M1596.56 260.45L1604.01 273.15L1589.11 273.15Z" fill="#231f20" stroke="#231f20" stroke-width="0.4"/>
<path d="M1609.55 290.10L1617.00 302.80L1602.10 302.80Z" fill="#231f20" stroke="#231f20" stroke-width="0.4"/>
<path d="M1622.54 325.40L1629.99 338.10L1615.09 338.10Z" fill="#231f20" stroke="#231f20" stroke-width="0.4"/>
<path d="M1635.53 364.71L1642.98 377.41L1628.08 377.41Z" fill="#231f20" stroke="#231f20" stroke-width="0.4"/>
<path d="M1648.52 410.08L1655.97 422.78L1641.07 422.78Z" fill="#231f20" stroke="#231f20" stroke-width="0.4"/>
<path d="M1661.51 455.32L1668.96 468.02L1654.06 468.02Z" fill="#231f20" stroke="#231f20" stroke-width="0.4"/>
<path d="M1674.51 496.15L1681.96 508.85L1667.06 508.85Z" fill="#231f20" stroke="#231f20" stroke-width="0.4"/>
<path d="M1037.95 479.48L1045.25 466.88L1030.65 466.88Z" fill="none" stroke="#231f20" stroke-width="1.5"/>
<path d="M1050.94 432.54L1058.24 419.94L1043.64 419.94Z" fill="none" stroke="#231f20" stroke-width="1.5"/>
<path d="M1063.93 420.92L1071.23 408.32L1056.63 408.32Z" fill="none" stroke="#231f20" stroke-width="1.5"/>
<path d="M1076.92 408.68L1084.22 396.08L1069.62 396.08Z" fill="none" stroke="#231f20" stroke-width="1.5"/>
<path d="M1089.91 391.69L1097.21 379.09L1082.61 379.09Z" fill="none" stroke="#231f20" stroke-width="1.5"/>
<path d="M1102.91 373.54L1110.21 360.94L1095.61 360.94Z" fill="none" stroke="#231f20" stroke-width="1.5"/>
<path d="M1115.90 353.34L1123.20 340.74L1108.60 340.74Z" fill="none" stroke="#231f20" stroke-width="1.5"/>
<path d="M1128.89 334.43L1136.19 321.83L1121.59 321.83Z" fill="none" stroke="#231f20" stroke-width="1.5"/>
<path d="M1141.88 315.95L1149.18 303.35L1134.58 303.35Z" fill="none" stroke="#231f20" stroke-width="1.5"/>
<path d="M1154.87 296.26L1162.17 283.66L1147.57 283.66Z" fill="none" stroke="#231f20" stroke-width="1.5"/>
<path d="M1167.86 276.94L1175.16 264.34L1160.56 264.34Z" fill="none" stroke="#231f20" stroke-width="1.5"/>
<path d="M1180.85 258.89L1188.15 246.29L1173.55 246.29Z" fill="none" stroke="#231f20" stroke-width="1.5"/>
<path d="M1193.84 241.61L1201.14 229.01L1186.54 229.01Z" fill="none" stroke="#231f20" stroke-width="1.5"/>
<path d="M1206.83 225.16L1214.13 212.56L1199.53 212.56Z" fill="none" stroke="#231f20" stroke-width="1.5"/>
<path d="M1219.82 209.38L1227.12 196.78L1212.52 196.78Z" fill="none" stroke="#231f20" stroke-width="1.5"/>
<path d="M1232.81 194.51L1240.11 181.91L1225.51 181.91Z" fill="none" stroke="#231f20" stroke-width="1.5"/>
<path d="M1245.81 180.77L1253.11 168.17L1238.51 168.17Z" fill="none" stroke="#231f20" stroke-width="1.5"/>
<path d="M1258.80 167.93L1266.10 155.33L1251.50 155.33Z" fill="none" stroke="#231f20" stroke-width="1.5"/>
<path d="M1271.79 155.58L1279.09 142.98L1264.49 142.98Z" fill="none" stroke="#231f20" stroke-width="1.5"/>
<path d="M1284.78 144.26L1292.08 131.66L1277.48 131.66Z" fill="none" stroke="#231f20" stroke-width="1.5"/>
<path d="M1297.77 134.34L1305.07 121.74L1290.47 121.74Z" fill="none" stroke="#231f20" stroke-width="1.5"/>
<path d="M1310.76 125.57L1318.06 112.97L1303.46 112.97Z" fill="none" stroke="#231f20" stroke-width="1.5"/>
<path d="M1323.75 119.12L1331.05 106.52L1316.45 106.52Z" fill="none" stroke="#231f20" stroke-width="1.5"/>
<path d="M1336.74 113.40L1344.04 100.80L1329.44 100.80Z" fill="none" stroke="#231f20" stroke-width="1.5"/>
<path d="M1349.73 107.13L1357.03 94.53L1342.43 94.53Z" fill="none" stroke="#231f20" stroke-width="1.5"/>
<path d="M1362.72 102.58L1370.02 89.98L1355.42 89.98Z" fill="none" stroke="#231f20" stroke-width="1.5"/>
<path d="M1375.71 98.69L1383.01 86.09L1368.41 86.09Z" fill="none" stroke="#231f20" stroke-width="1.5"/>
<path d="M1388.71 95.36L1396.01 82.76L1381.41 82.76Z" fill="none" stroke="#231f20" stroke-width="1.5"/>
<path d="M1401.70 94.21L1409.00 81.61L1394.40 81.61Z" fill="none" stroke="#231f20" stroke-width="1.5"/>
<path d="M1414.69 94.52L1421.99 81.92L1407.39 81.92Z" fill="none" stroke="#231f20" stroke-width="1.5"/>
<path d="M1427.68 95.31L1434.98 82.71L1420.38 82.71Z" fill="none" stroke="#231f20" stroke-width="1.5"/>
<path d="M1440.67 97.86L1447.97 85.26L1433.37 85.26Z" fill="none" stroke="#231f20" stroke-width="1.5"/>
<path d="M1453.66 102.26L1460.96 89.66L1446.36 89.66Z" fill="none" stroke="#231f20" stroke-width="1.5"/>
<path d="M1466.65 108.45L1473.95 95.85L1459.35 95.85Z" fill="none" stroke="#231f20" stroke-width="1.5"/>
<path d="M1479.64 116.47L1486.94 103.87L1472.34 103.87Z" fill="none" stroke="#231f20" stroke-width="1.5"/>
<path d="M1492.63 126.13L1499.93 113.53L1485.33 113.53Z" fill="none" stroke="#231f20" stroke-width="1.5"/>
<path d="M1505.62 136.84L1512.92 124.24L1498.32 124.24Z" fill="none" stroke="#231f20" stroke-width="1.5"/>
<path d="M1518.61 149.18L1525.91 136.58L1511.31 136.58Z" fill="none" stroke="#231f20" stroke-width="1.5"/>
<path d="M1531.61 163.59L1538.91 150.99L1524.31 150.99Z" fill="none" stroke="#231f20" stroke-width="1.5"/>
<path d="M1544.60 181.40L1551.90 168.80L1537.30 168.80Z" fill="none" stroke="#231f20" stroke-width="1.5"/>
<path d="M1557.59 201.44L1564.89 188.84L1550.29 188.84Z" fill="none" stroke="#231f20" stroke-width="1.5"/>
<path d="M1570.58 222.88L1577.88 210.28L1563.28 210.28Z" fill="none" stroke="#231f20" stroke-width="1.5"/>
<path d="M1583.57 246.77L1590.87 234.17L1576.27 234.17Z" fill="none" stroke="#231f20" stroke-width="1.5"/>
<path d="M1596.56 274.60L1603.86 262.00L1589.26 262.00Z" fill="none" stroke="#231f20" stroke-width="1.5"/>
<path d="M1609.55 304.26L1616.85 291.66L1602.25 291.66Z" fill="none" stroke="#231f20" stroke-width="1.5"/>
<path d="M1622.54 339.56L1629.84 326.96L1615.24 326.96Z" fill="none" stroke="#231f20" stroke-width="1.5"/>
<path d="M1635.53 378.87L1642.83 366.27L1628.23 366.27Z" fill="none" stroke="#231f20" stroke-width="1.5"/>
<path d="M1648.52 424.23L1655.82 411.63L1641.22 411.63Z" fill="none" stroke="#231f20" stroke-width="1.5"/>
<path d="M1661.51 469.48L1668.81 456.88L1654.21 456.88Z" fill="none" stroke="#231f20" stroke-width="1.5"/>
<path d="M1674.51 510.37L1681.81 497.77L1667.21 497.77Z" fill="none" stroke="#231f20" stroke-width="1.5"/>
<circle cx="1036.33" cy="512.45" r="6.4" fill="none" stroke="#231f20" stroke-width="3.0"/>
<circle cx="1062.31" cy="460.94" r="6.4" fill="none" stroke="#231f20" stroke-width="3.0"/>
<circle cx="1088.29" cy="411.94" r="6.4" fill="none" stroke="#231f20" stroke-width="3.0"/>
<circle cx="1114.27" cy="365.58" r="6.4" fill="none" stroke="#231f20" stroke-width="3.0"/>
<circle cx="1140.25" cy="321.99" r="6.4" fill="none" stroke="#231f20" stroke-width="3.0"/>
<circle cx="1166.24" cy="281.30" r="6.4" fill="none" stroke="#231f20" stroke-width="3.0"/>
<circle cx="1192.22" cy="243.67" r="6.4" fill="none" stroke="#231f20" stroke-width="3.0"/>
<circle cx="1218.20" cy="209.26" r="6.4" fill="none" stroke="#231f20" stroke-width="3.0"/>
<circle cx="1244.18" cy="178.25" r="6.4" fill="none" stroke="#231f20" stroke-width="3.0"/>
<circle cx="1270.16" cy="150.85" r="6.4" fill="none" stroke="#231f20" stroke-width="3.0"/>
<circle cx="1296.15" cy="127.25" r="6.4" fill="none" stroke="#231f20" stroke-width="3.0"/>
<circle cx="1322.13" cy="107.72" r="6.4" fill="none" stroke="#231f20" stroke-width="3.0"/>
<circle cx="1348.11" cy="92.52" r="6.4" fill="none" stroke="#231f20" stroke-width="3.0"/>
<circle cx="1374.09" cy="81.95" r="6.4" fill="none" stroke="#231f20" stroke-width="3.0"/>
<circle cx="1400.07" cy="76.34" r="6.4" fill="none" stroke="#231f20" stroke-width="3.0"/>
<circle cx="1426.05" cy="76.08" r="6.4" fill="none" stroke="#231f20" stroke-width="3.0"/>
<circle cx="1452.04" cy="81.61" r="6.4" fill="none" stroke="#231f20" stroke-width="3.0"/>
<circle cx="1478.02" cy="93.42" r="6.4" fill="none" stroke="#231f20" stroke-width="3.0"/>
<circle cx="1504.00" cy="112.08" r="6.4" fill="none" stroke="#231f20" stroke-width="3.0"/>
<circle cx="1529.98" cy="138.28" r="6.4" fill="none" stroke="#231f20" stroke-width="3.0"/>
<circle cx="1555.96" cy="172.81" r="6.4" fill="none" stroke="#231f20" stroke-width="3.0"/>
<circle cx="1581.95" cy="216.61" r="6.4" fill="none" stroke="#231f20" stroke-width="3.0"/>
<circle cx="1607.93" cy="270.85" r="6.4" fill="none" stroke="#231f20" stroke-width="3.0"/>
<circle cx="1633.91" cy="336.94" r="6.4" fill="none" stroke="#231f20" stroke-width="3.0"/>
<circle cx="1659.89" cy="416.69" r="6.4" fill="none" stroke="#231f20" stroke-width="3.0"/>
<circle cx="1686.67" cy="512.45" r="6.4" fill="none" stroke="#231f20" stroke-width="3.0"/>
<text x="995.0" y="158.05" font-size="33" text-anchor="end">0.04</text>
<text x="995.0" y="341.05" font-size="33" text-anchor="end">0.02</text>
<text x="995.0" y="524.05" font-size="33" text-anchor="end">0</text>
<text x="1036.33" y="587.3" font-size="33" text-anchor="middle">0</text>
<text x="1166.24" y="587.3" font-size="33" text-anchor="middle">0.2</text>
<text x="1296.15" y="587.3" font-size="33" text-anchor="middle">0.4</text>
<text x="1426.05" y="587.3" font-size="33" text-anchor="middle">0.6</text>
<text x="1555.96" y="587.3" font-size="33" text-anchor="middle">0.8</text>
<text x="1685.87" y="587.3" font-size="33" text-anchor="middle">1</text>
<text><tspan x="1337.21" y="622.80" font-size="38" font-style="italic" textLength="47.42" lengthAdjust="spacingAndGlyphs">x/L</tspan></text>
<text transform="rotate(-90)"><tspan x="-380.51" y="908.50" font-size="38" textLength="12.75" lengthAdjust="spacingAndGlyphs">(</tspan> <tspan x="-359.31" y="908.50" font-size="38" font-style="italic" textLength="23.95" lengthAdjust="spacingAndGlyphs">P</tspan> <tspan x="-328.74" y="908.50" font-size="38" textLength="11.71" lengthAdjust="spacingAndGlyphs">-</tspan> <tspan x="-307.51" y="908.50" font-size="38" font-style="italic" textLength="23.95" lengthAdjust="spacingAndGlyphs">P</tspan><tspan x="-286.33" y="919.40" font-size="23" textLength="22.07" lengthAdjust="spacingAndGlyphs">lin</tspan> <tspan x="-255.69" y="908.50" font-size="38" textLength="12.47" lengthAdjust="spacingAndGlyphs">)</tspan> <tspan x="-232.79" y="908.50" font-size="38" textLength="8.83" lengthAdjust="spacingAndGlyphs">/</tspan><tspan x="-224.90" y="908.50" font-size="38" font-style="italic" textLength="24.97" lengthAdjust="spacingAndGlyphs">P</tspan><tspan x="-201.92" y="919.40" font-size="23" textLength="15.74" lengthAdjust="spacingAndGlyphs">in</tspan></text>
<text><tspan x="1056.54" y="59.00" font-size="42.6" textLength="50.66" lengthAdjust="spacingAndGlyphs">(b)</tspan></text>
<line x1="1105.7" y1="433.4" x2="1238.3" y2="433.4" stroke="#231f20" stroke-width="2.7" stroke-linecap="round"/>
<path d="M1171.90 424.70L1179.35 437.40L1164.45 437.40Z" fill="#231f20" stroke="#231f20" stroke-width="0.4"/>
<line x1="1105.7" y1="477.4" x2="1238.3" y2="477.4" stroke="#231f20" stroke-width="2.7" stroke-linecap="round"/>
<path d="M1171.90 485.50L1179.10 473.30L1164.70 473.30Z" fill="none" stroke="#231f20" stroke-width="1.5"/>
<circle cx="1171.90" cy="521.50" r="6.4" fill="none" stroke="#231f20" stroke-width="2.9"/>
<text><tspan x="1260.10" y="442.10" font-size="29.8" textLength="111.22" lengthAdjust="spacingAndGlyphs">SPARTA</tspan> <tspan x="1379.42" y="442.10" font-size="29.8" textLength="104.52" lengthAdjust="spacingAndGlyphs">(Original</tspan> <tspan x="1491.89" y="442.10" font-size="29.8" textLength="99.90" lengthAdjust="spacingAndGlyphs">Method)</tspan></text>
<text><tspan x="1260.10" y="486.80" font-size="29.8" textLength="111.22" lengthAdjust="spacingAndGlyphs">SPARTA</tspan> <tspan x="1379.42" y="486.80" font-size="29.8" textLength="74.85" lengthAdjust="spacingAndGlyphs">(Fixed</tspan> <tspan x="1463.08" y="486.80" font-size="29.8" textLength="62.70" lengthAdjust="spacingAndGlyphs">PPC)</tspan></text>
<text><tspan x="1260.78" y="529.80" font-size="29.8" textLength="116.66" lengthAdjust="spacingAndGlyphs">Analytical</tspan> <tspan x="1384.71" y="529.80" font-size="29.8" textLength="23.99" lengthAdjust="spacingAndGlyphs">(2</tspan><tspan x="1409.18" y="515.30" font-size="17.8" textLength="16.55" lengthAdjust="spacingAndGlyphs">nd</tspan> <tspan x="1433.45" y="529.80" font-size="29.8" textLength="61.15" lengthAdjust="spacingAndGlyphs">order</tspan> <tspan x="1502.65" y="529.80" font-size="29.8" textLength="41.05" lengthAdjust="spacingAndGlyphs">slip</tspan> <tspan x="1550.78" y="529.80" font-size="29.8" textLength="64.19" lengthAdjust="spacingAndGlyphs">B.C.)</tspan></text>
</g>
</svg>
</body></html>
